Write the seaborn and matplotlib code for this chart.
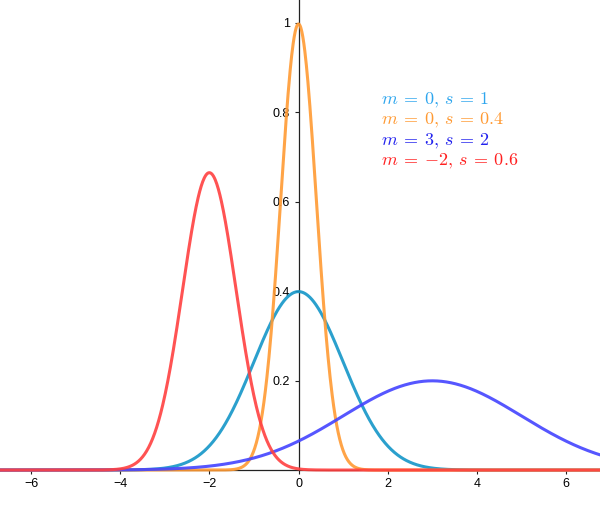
import numpy as np
import pandas as pd
import matplotlib
matplotlib.use("Agg")
import matplotlib.pyplot as plt
import seaborn as sns

# --- Curve parameters (normal densities) ---
means = [0, 0, 3, -2]
sds = [1, 0.4, 2, 0.6]
labels = [r"$m\:=\:0,\,s\:=\:1$", r"$m\:=\:0,\,s\:=\:0.4$",
          r"$m\:=\:3,\,s\:=\:2$", r"$m\:=\:{-}2,\,s\:=\:0.6$"]
curve_colors = ["#1496c8", "#ff9a33", "#4444ff", "#ff4040"]
text_colors = ["#2ea6ee", "#ff9a33", "#2222ee", "#ff2020"]

x_ticks = [-6, -4, -2, 0, 2, 4, 6]
x_tick_labels = ["\u22126", "\u22124", "\u22122", "0", "2", "4", "6"]
y_ticks = [0.2, 0.4, 0.6, 0.8, 1.0]
y_tick_labels = ["0.2", "0.4", "0.6", "0.8", "1"]

# --- Build curves ---
xs = np.linspace(-6.8, 6.8, 1200)
frames = []
for lab, m, s in zip(labels, means, sds):
    y = np.exp(-0.5 * ((xs - m) / s) ** 2) / (s * np.sqrt(2 * np.pi))
    frames.append(pd.DataFrame({"x": xs, "y": y, "curve": lab}))
df = pd.concat(frames, ignore_index=True)

sns.set_style("white")
plt.rcParams["mathtext.fontset"] = "cm"
plt.rcParams["font.family"] = ["Liberation Sans", "DejaVu Sans"]

fig = plt.figure(figsize=(6, 5.17), dpi=100)
ax = fig.add_axes([0, 0, 1, 1])

sns.lineplot(data=df, x="x", y="y", hue="curve", palette=dict(zip(labels, curve_colors)),
             linewidth=2.2, alpha=0.9, legend=False, ax=ax, sort=False)

ax.set_xlim(-6.696, 6.763)
ax.set_ylim(-0.105, 1.051)

# axes crossing at origin
for side in ["top", "right"]:
    ax.spines[side].set_visible(False)
ax.spines["left"].set_position(("data", 0))
ax.spines["bottom"].set_position(("data", 0))
ax.spines["left"].set_bounds(0, 1.06)
for side in ["left", "bottom"]:
    ax.spines[side].set_color("#222222")
    ax.spines[side].set_linewidth(0.9)
    ax.spines[side].set_zorder(0.5)

ax.set_xticks(x_ticks)
ax.set_xticklabels(x_tick_labels)
ax.set_yticks(y_ticks)
ax.set_yticklabels(y_tick_labels)
ax.tick_params(axis="both", direction="out", length=3, width=0.8, color="#222222",
               labelsize=9, labelcolor="black", pad=3)
ax.tick_params(axis="x", bottom=True)
ax.tick_params(axis="y", left=True)
ax.set_xlabel("")
ax.set_ylabel("")

# legend as coloured text
for i, (lab, c) in enumerate(zip(labels, text_colors)):
    ax.text(1.86, 0.826 - i * 0.0455, lab, color=c, fontsize=13, va="center", ha="left")

fig.savefig("out.png", dpi=100)
